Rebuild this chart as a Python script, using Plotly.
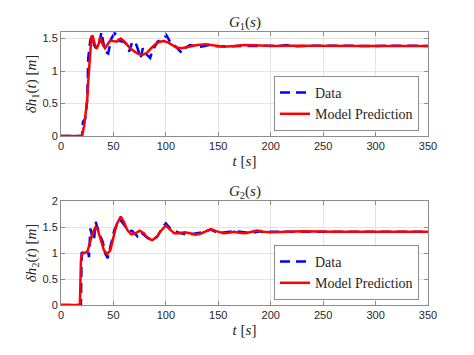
import plotly.graph_objects as go

# ---- Data ----
t1_data = [0, 20, 21, 22, 23, 24, 25, 26, 27, 28, 29, 30, 31.5, 33, 35, 37, 38.5, 40.5, 42, 45, 48, 51, 53, 56, 60, 63, 65, 68, 71, 73, 76, 78, 80, 85, 87, 92, 98, 100.5, 104, 108, 112, 115, 118, 123, 128, 132, 136, 141, 146, 151, 160, 170, 180, 190, 200, 210, 215, 220, 240, 260, 280, 300, 320, 350]
y1_data = [0, 0, 0.22, 0.25, 0.26, 0.4, 0.55, 1.2, 1.35, 1.48, 1.52, 1.55, 1.40, 1.36, 1.35, 1.45, 1.60, 1.45, 1.30, 1.27, 1.50, 1.58, 1.56, 1.46, 1.45, 1.40, 1.30, 1.45, 1.44, 1.35, 1.20, 1.35, 1.28, 1.20, 1.30, 1.45, 1.50, 1.55, 1.45, 1.40, 1.33, 1.28, 1.35, 1.40, 1.38, 1.37, 1.38, 1.40, 1.38, 1.38, 1.39, 1.38, 1.39, 1.39, 1.38, 1.39, 1.40, 1.38, 1.39, 1.385, 1.39, 1.385, 1.39, 1.385]

t1_model = [0, 20, 22, 24, 25, 26, 28, 29, 30, 32, 34, 36, 37, 38, 40, 42, 44, 47, 50, 53, 55, 57, 60, 63, 66, 70, 74, 78, 82, 86, 90, 94, 98, 102, 106, 110, 115, 120, 125, 130, 138, 145, 155, 165, 175, 185, 200, 220, 250, 300, 350]
y1_model = [0, 0, 0.15, 0.40, 0.55, 0.85, 1.35, 1.52, 1.55, 1.42, 1.34, 1.42, 1.50, 1.50, 1.40, 1.35, 1.40, 1.47, 1.46, 1.45, 1.48, 1.50, 1.46, 1.40, 1.35, 1.30, 1.26, 1.25, 1.28, 1.35, 1.41, 1.45, 1.46, 1.44, 1.40, 1.36, 1.35, 1.37, 1.39, 1.40, 1.41, 1.40, 1.375, 1.385, 1.40, 1.395, 1.385, 1.39, 1.385, 1.385, 1.385]

t2_data = [0, 19, 19.7, 22, 25.6, 26.7, 28, 30, 31.5, 33, 35, 37, 40, 42, 44.5, 47, 51, 56, 60, 63, 68, 73, 76, 82, 87, 92, 97, 100, 105, 111, 121, 135, 143, 150, 160, 165, 175, 180, 190, 195, 200, 215, 230, 260, 300, 350]
y2_data = [0, 0, 1.0, 1.02, 1.05, 0.92, 1.47, 1.30, 1.25, 1.60, 1.45, 1.35, 1.20, 1.00, 0.90, 1.10, 1.45, 1.65, 1.55, 1.45, 1.42, 1.32, 1.40, 1.30, 1.25, 1.32, 1.50, 1.57, 1.45, 1.40, 1.35, 1.40, 1.45, 1.38, 1.40, 1.42, 1.40, 1.38, 1.42, 1.38, 1.41, 1.41, 1.42, 1.41, 1.41, 1.41]

t2_model = [0, 18, 19, 20, 22, 25, 27, 30, 33, 35, 38, 41, 44, 47, 50, 53, 57, 60, 63, 67, 71, 75, 79, 83, 87, 91, 95, 100, 104, 108, 113, 118, 123, 128, 133, 138, 143, 148, 155, 160, 165, 170, 176, 182, 187, 193, 200, 215, 230, 260, 300, 350]
y2_model = [0, 0, 0.85, 0.98, 1.0, 1.02, 1.15, 1.38, 1.50, 1.45, 1.25, 1.05, 0.98, 1.05, 1.30, 1.55, 1.70, 1.60, 1.45, 1.36, 1.38, 1.43, 1.38, 1.28, 1.25, 1.30, 1.42, 1.53, 1.45, 1.38, 1.38, 1.40, 1.38, 1.35, 1.37, 1.42, 1.46, 1.42, 1.38, 1.39, 1.41, 1.39, 1.38, 1.41, 1.43, 1.41, 1.40, 1.41, 1.42, 1.41, 1.41, 1.41]

x_ticks = [0, 50, 100, 150, 200, 250, 300, 350]
y1_ticks = [0, 0.5, 1, 1.5]
y2_ticks = [0, 0.5, 1, 1.5, 2]

SERIF = "Liberation Serif"
SANS = "Liberation Sans"
AX = "#8c8c8c"
TXT = "#262626"
DASH = "10px,6px"

fig = go.Figure()

fig.add_trace(go.Scatter(x=t1_data, y=y1_data, mode="lines", name="Data",
                         line=dict(color="#0000ff", width=2.5, dash=DASH),
                         xaxis="x", yaxis="y", legend="legend"))
fig.add_trace(go.Scatter(x=t1_model, y=y1_model, mode="lines", name="Model Prediction",
                         line=dict(color="#ff0000", width=2.5),
                         xaxis="x", yaxis="y", legend="legend"))
fig.add_trace(go.Scatter(x=t2_data, y=y2_data, mode="lines", name="Data",
                         line=dict(color="#0000ff", width=2.5, dash=DASH),
                         xaxis="x2", yaxis="y2", legend="legend2"))
fig.add_trace(go.Scatter(x=t2_model, y=y2_model, mode="lines", name="Model Prediction",
                         line=dict(color="#ff0000", width=2.5),
                         xaxis="x2", yaxis="y2", legend="legend2"))

# page offset: browser's default 8px body margin
OFF = 8
W, H = 474 - OFF, 355 - OFF

def px(x):
    return (x - OFF) / W

def py(y):
    return 1 - (y - OFF) / H

xd = [px(61), px(428)]
y1d = [py(136), py(32)]
y2d = [py(305), py(201)]

def xaxis(anchor, title):
    return dict(domain=xd, anchor=anchor, range=[0, 350], tickvals=x_ticks,
                automargin=False,
                showgrid=True, gridcolor="#e3e3e3", gridwidth=1, zeroline=False,
                showline=True, linecolor=AX, linewidth=1, mirror="ticks",
                ticks="inside", ticklen=4, tickcolor=AX,
                tickfont=dict(family=SANS, size=11, color=TXT),
                title=dict(text=title, font=dict(family=SERIF, size=15, color=TXT), standoff=4))

def yaxis(anchor, dom, rng, tv, title):
    return dict(domain=dom, anchor=anchor, range=rng, tickvals=tv,
                ticktext=[("%g" % v) for v in tv], automargin=False,
                showgrid=True, gridcolor="#e3e3e3", gridwidth=1, zeroline=False,
                showline=True, linecolor=AX, linewidth=1, mirror="ticks",
                ticks="inside", ticklen=4, tickcolor=AX,
                tickfont=dict(family=SANS, size=11, color=TXT),
                title=dict(text=title, font=dict(family=SERIF, size=15, color=TXT), standoff=2))

leg_common = dict(xanchor="right", yanchor="bottom", bgcolor="white",
                  bordercolor="#8c8c8c", borderwidth=1,
                  font=dict(family=SERIF, size=14, color=TXT),
                  tracegroupgap=0, itemwidth=30)

fig.update_layout(
    width=W, height=H, margin=dict(l=0, r=0, t=0, b=0, autoexpand=False),
    paper_bgcolor="white", plot_bgcolor="white",
    xaxis=xaxis("y", "<i>t</i> [<i>s</i>]"),
    yaxis=yaxis("x", y1d, [0, 1.6], y1_ticks, "<i>δh</i><sub>1</sub>(<i>t</i>) [<i>m</i>]"),
    xaxis2=xaxis("y2", "<i>t</i> [<i>s</i>]"),
    yaxis2=yaxis("x2", y2d, [0, 2], y2_ticks, "<i>δh</i><sub>2</sub>(<i>t</i>) [<i>m</i>]"),
    legend=dict(x=px(419), y=py(131), **leg_common),
    legend2=dict(x=px(419), y=py(300), **leg_common),
    annotations=[
        dict(text="<i>G</i><sub>1</sub>(<i>s</i>)", x=px(244.5), y=py(23),
             xref="paper", yref="paper", showarrow=False, yanchor="middle",
             font=dict(family=SERIF, size=15, color=TXT)),
        dict(text="<i>G</i><sub>2</sub>(<i>s</i>)", x=px(244.5), y=py(192),
             xref="paper", yref="paper", showarrow=False, yanchor="middle",
             font=dict(family=SERIF, size=15, color=TXT)),
    ],
)

fig.write_html("out.html")
